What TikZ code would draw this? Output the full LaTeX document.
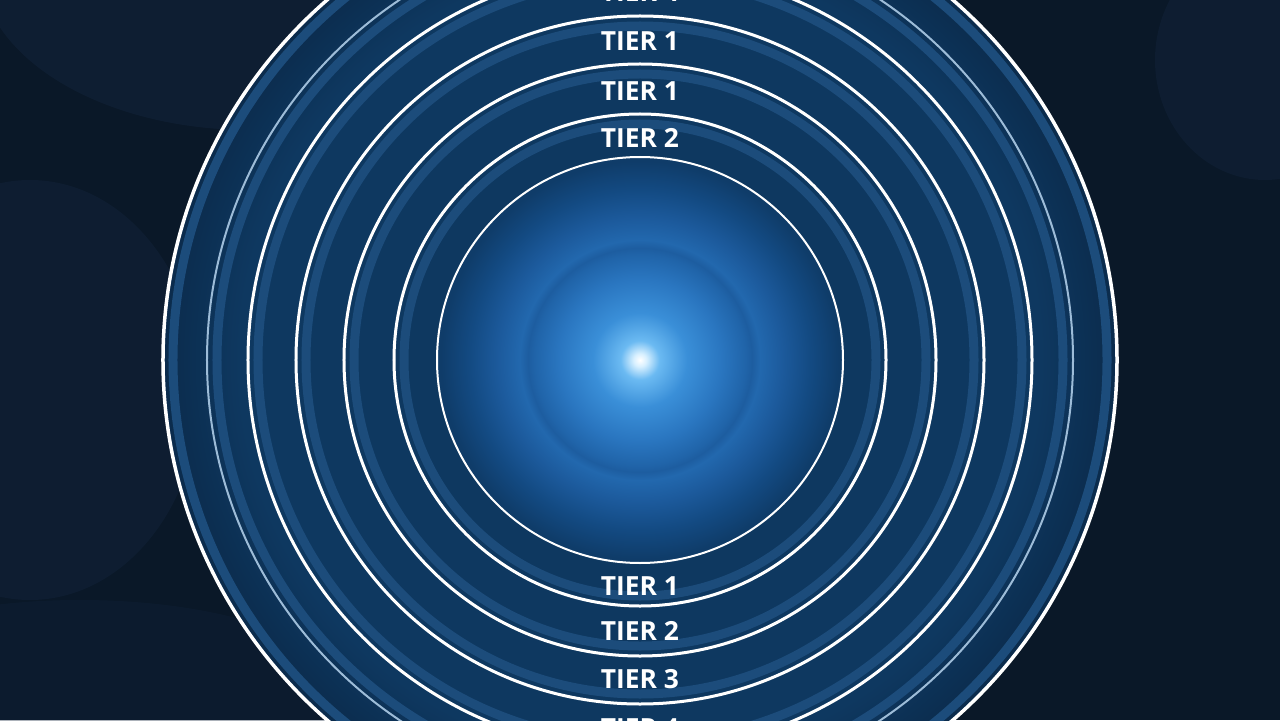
\documentclass[tikz,border=0pt]{standalone}
\usepackage{fontspec}
\setsansfont{Open Sans}
\usetikzlibrary{calc}
\definecolor{bgnavy}{HTML}{0A1828}
\definecolor{bgblob}{HTML}{12233A}
\definecolor{ringedge}{HTML}{0B2B4C}
\definecolor{ringmid}{HTML}{0E3860}
\definecolor{bandblue}{HTML}{1C4C7B}
\definecolor{thinline}{HTML}{9DBCD8}
\definecolor{glowa}{HTML}{D8F0FF}
\definecolor{glowb}{HTML}{6BBAF2}
\definecolor{glowc}{HTML}{3A8FD8}
\definecolor{glowd}{HTML}{2A76C0}
\definecolor{glowe}{HTML}{2064A9}
\definecolor{glowf}{HTML}{1D5DA0}
\definecolor{glowg}{HTML}{2268AE}
\definecolor{glowh}{HTML}{1C5A9C}
\definecolor{glowi}{HTML}{134A82}
\definecolor{glowj}{HTML}{0F3C69}
\newcommand*{\px   }{0.02cm}
\newcommand*{\rOuter}{477}
\newcommand*{\rCore }{203}
\pgfdeclareradialshading{ringfill}{\pgfpoint{0bp}{0bp}}{color(0bp)=(ringmid); color(21bp)=(ringmid); color(25bp)=(ringedge); color(50bp)=(ringedge)}
\pgfdeclareradialshading{coreglow}{\pgfpoint{0bp}{0bp}}{color(0bp)=(white); color(0.8bp)=(glowa); color(2.4bp)=(glowb); color(5.8bp)=(glowc); color(10bp)=(glowd); color(13bp)=(glowe); color(13.8bp)=(glowf); color(14.8bp)=(glowg); color(17.5bp)=(glowh); color(21bp)=(glowi); color(24.5bp)=(glowj); color(50bp)=(glowj)}

\begin{document}
\begin{tikzpicture}[x=\px, y=\px, font=\sffamily,
    tierlabel/.style={text=white, inner sep=0pt, font=\sffamily\bfseries\fontsize{15}{18}\selectfont},
    tierline/.style={draw=white, line width=3*\px}]
    \useasboundingbox (-640,-360) rectangle (640,360);
    \clip (-640,-360) rectangle (640,360);
    \fill [bgnavy] (-640,-360) rectangle (640,360);
    \fill [bgblob, opacity=0.6] (-390,395) ellipse (270 and 165);
    \fill [bgblob, opacity=0.5] (-610,-30) ellipse (170 and 210);
    \fill [bgblob, opacity=0.5] (625,300) ellipse (110 and 120);
    \fill [bgblob, opacity=0.35] (-560,-330) ellipse (260 and 90);
    % rings
    \shade [shading=ringfill] (0,0) circle (\rOuter);
    \foreach \r in {477,433,392,344,296,246}
        \draw [bandblue, line width=9*\px] (0,0) circle (\r-10);
    \shade [shading=coreglow] (0,0) circle (\rCore);
    \draw [tierline, line width=3.5*\px] (0,0) circle (477);
    \draw [thinline, line width=2*\px] (0,0) circle (433);
    \foreach \r in {392,344,296,246}
        \draw [tierline] (0,0) circle (\r);
    \draw [tierline, line width=2*\px] (0,0) circle (\rCore);
    % labels
    \node [tierlabel] (topD) at (0, 368) {TIER 4};
    \node [tierlabel] (topC) at (0, 319) {TIER 1};
    \node [tierlabel] (topB) at (0, 269) {TIER 1};
    \node [tierlabel] (topA) at (0, 222) {TIER 2};
    \node [tierlabel] (botA) at (0,-226) {TIER 1};
    \node [tierlabel] (botB) at (0,-271) {TIER 2};
    \node [tierlabel] (botC) at (0,-319) {TIER 3};
    \node [tierlabel] (botD) at (0,-368) {TIER 4};
\end{tikzpicture}
\end{document}
